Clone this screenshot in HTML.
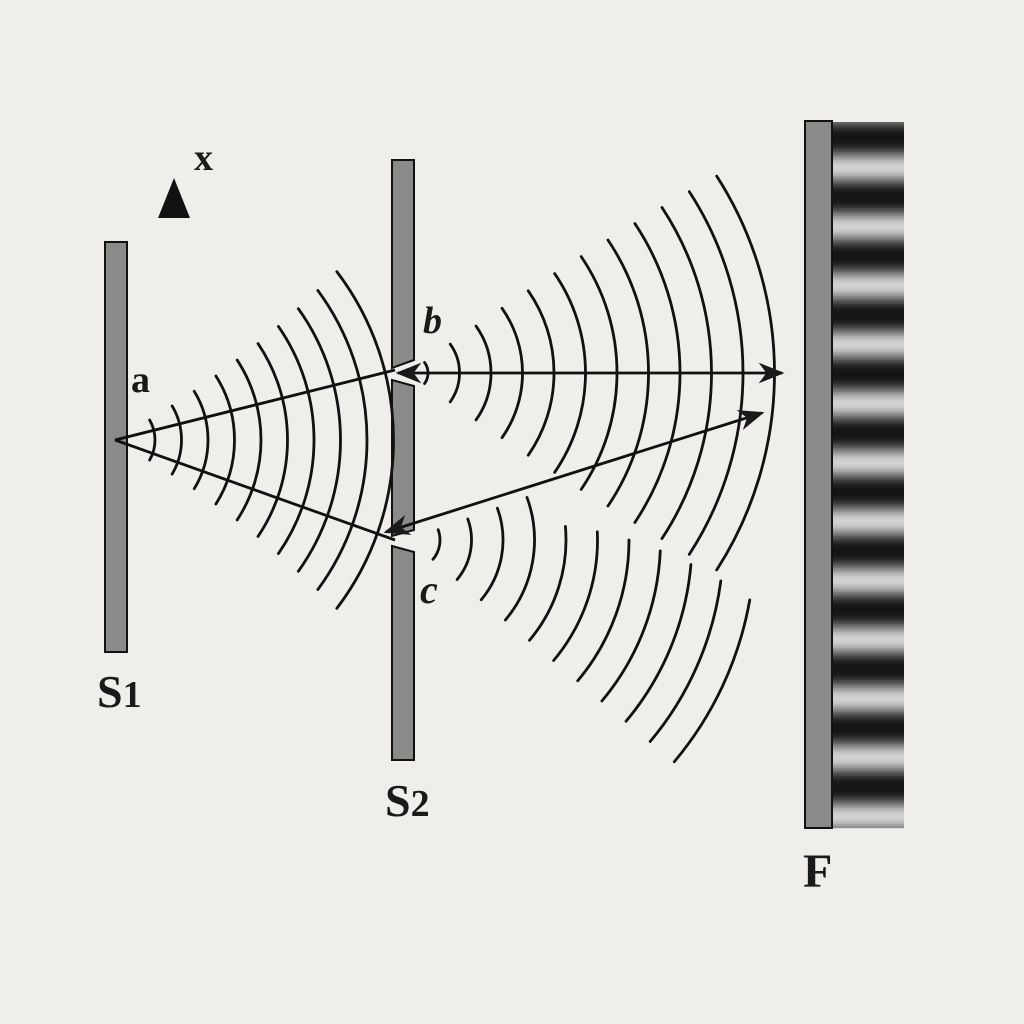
<!DOCTYPE html>
<html><head><meta charset="utf-8"><style>
html,body{margin:0;padding:0;background:#efeeea;}
svg{display:block}
text{font-family:"Liberation Serif",serif;font-weight:bold;fill:#1a1a1a}
</style></head><body>
<svg id="s" width="1024" height="1024" viewBox="0 0 1024 1024" xmlns="http://www.w3.org/2000/svg">
<defs>
<marker id="ah2" viewBox="0 0 10 10" refX="9" refY="5" markerWidth="26" markerHeight="26" orient="auto-start-reverse" markerUnits="userSpaceOnUse">
<path d="M0,1 L10,5 L0,9 L3,5 z" fill="#1a1a1a"/></marker>
</defs>
<rect width="1024" height="1024" fill="#efeeea"/>
<g id="fringe"></g>
<rect x="805" y="121" width="27" height="707" fill="#8a8a88" stroke="#111" stroke-width="2"/>
<rect x="105" y="242" width="22" height="410" fill="#8a8a88" stroke="#111" stroke-width="2"/>
<path d="M392,160 H414 V360 L392,368 Z" fill="#8a8a88" stroke="#111" stroke-width="2"/>
<path d="M392,380 L414,386 V530 L392,536 Z" fill="#8a8a88" stroke="#111" stroke-width="2"/>
<path d="M392,546 L414,552 V760 H392 Z" fill="#8a8a88" stroke="#111" stroke-width="2"/>
<g id="arcs" fill="none" stroke="#111" stroke-width="2.8" stroke-linecap="round"></g>
<g stroke="#111" stroke-width="2.8" fill="none">
<line x1="115" y1="440" x2="395" y2="370"/>
<line x1="115" y1="440" x2="395" y2="540"/>
<line x1="398" y1="373" x2="782" y2="373" marker-start="url(#ah2)" marker-end="url(#ah2)"/>
<line x1="386" y1="532" x2="762" y2="413" marker-start="url(#ah2)" marker-end="url(#ah2)"/>
</g>
<polygon points="158,218 174,178 190,218" fill="#111"/>
<text x="194" y="170" font-size="38">x</text>
<text x="131" y="392" font-size="38">a</text>
<text x="423" y="333" font-size="38" font-style="italic">b</text>
<text x="420" y="603" font-size="40" font-style="italic">c</text>
<text x="97" y="707" font-size="46">S<tspan font-size="38">1</tspan></text>
<text x="385" y="816" font-size="46">S<tspan font-size="38">2</tspan></text>
<text x="803" y="887" font-size="48">F</text>
</svg>
<script>
var NS="http://www.w3.org/2000/svg";
var g=document.getElementById('arcs');
function arc(cx,cy,r,a1,a2){var p=document.createElementNS(NS,'path');
var t1=a1*Math.PI/180,t2=a2*Math.PI/180;
p.setAttribute('d','M'+(cx+r*Math.cos(t1))+','+(cy+r*Math.sin(t1))+' A'+r+','+r+' 0 0 1 '+(cx+r*Math.cos(t2))+','+(cy+r*Math.sin(t2)));
g.appendChild(p);}
for(var i=0;i<10;i++){var r=40+i*26.5;var a=30+i*0.8;arc(115,440,r,-a,a);}
for(var i=0;i<12;i++){var r=18+i*31.5;var a=36-i*0.3;arc(410,373,r,-a,a);}
for(var i=0;i<11;i++){var r=30+i*31.5;var a1=i<4?-20:-5+ (i-4)*2.5;arc(410,540,r,a1,40);}
var f=document.getElementById('fringe');
for(var y=122;y<828;y+=2){var ph=(y-137)/59*2*Math.PI;var v=Math.round(20+190*Math.pow((1-Math.cos(ph))/2,1.3));
var rct=document.createElementNS(NS,'rect');rct.setAttribute('x',832);rct.setAttribute('y',y);rct.setAttribute('width',72);rct.setAttribute('height',2.2);
rct.setAttribute('fill','rgb('+v+','+v+','+v+')');f.appendChild(rct);}
</script>
</body></html>
